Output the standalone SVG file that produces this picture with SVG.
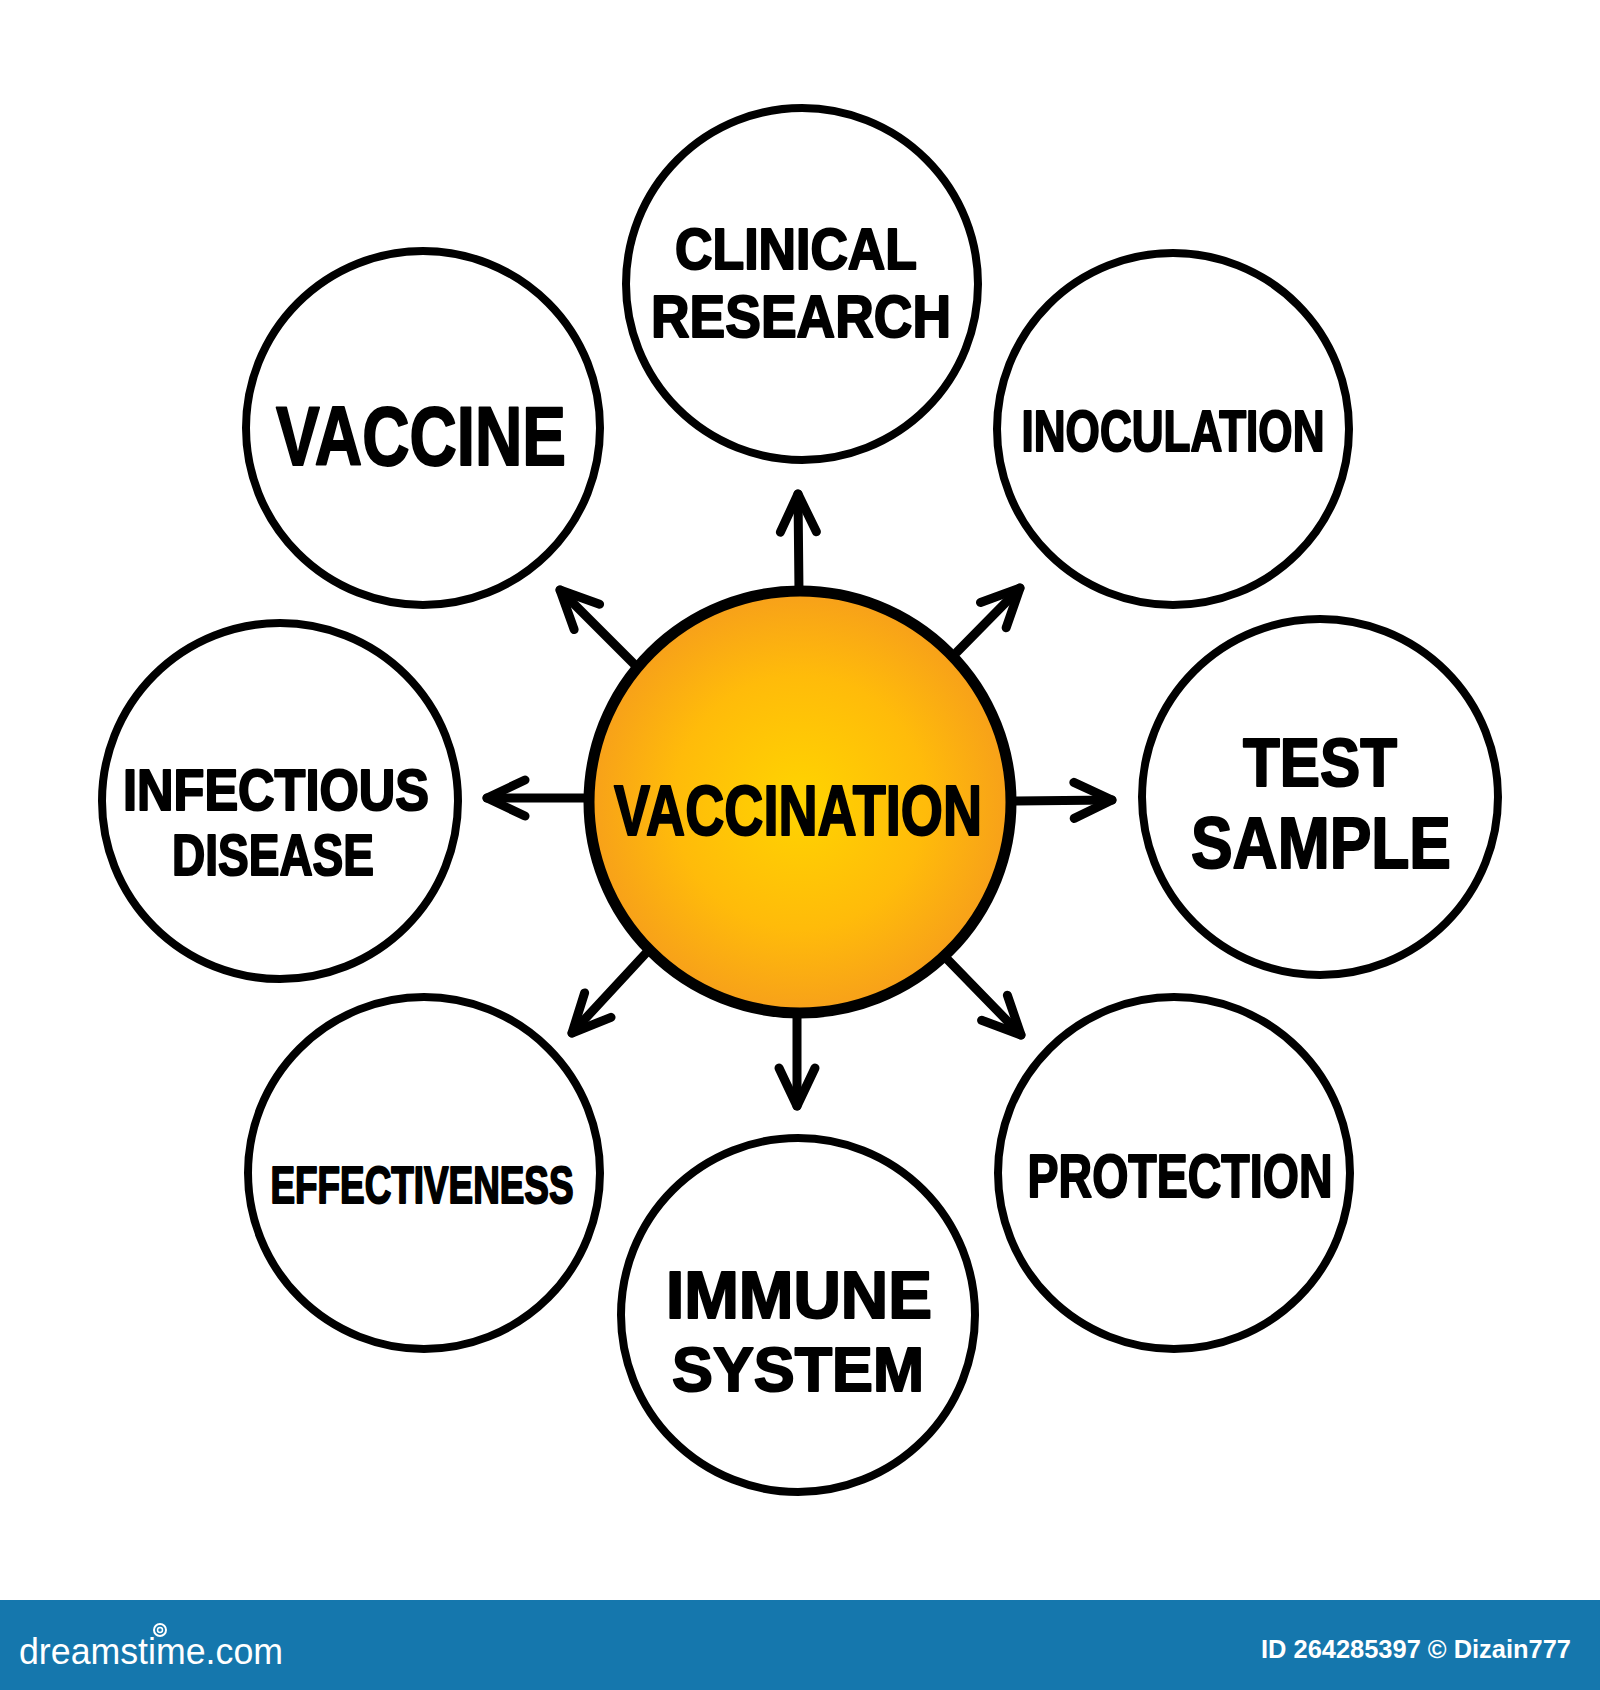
<svg xmlns="http://www.w3.org/2000/svg" width="1600" height="1690" viewBox="0 0 1600 1690">
  <style>
    .node { fill: #ffffff; stroke: #000000; stroke-width: 8; }
    .hub { stroke: #000000; stroke-width: 11; }
    .lbl { font-family: "Liberation Sans", "DejaVu Sans", sans-serif; font-weight: bold; fill: #000000; text-anchor: middle; stroke: #000000; stroke-width: 2; stroke-linejoin: round; }
    .conn { fill: none; stroke: #000000; stroke-width: 9; stroke-linecap: round; marker-end: url(#arrow); }
    .foot { font-family: "Liberation Sans", "DejaVu Sans", sans-serif; fill: #ffffff; }
  </style>
  <defs>
    <radialGradient id="hubFill" cx="0.5" cy="0.5" r="0.5">
      <stop offset="0" stop-color="#ffd400"/>
      <stop offset="0.6" stop-color="#ffbb0a"/>
      <stop offset="1" stop-color="#f7a01a"/>
    </radialGradient>
    <marker id="arrow" markerUnits="userSpaceOnUse" viewBox="-50 -30 60 60" markerWidth="60" markerHeight="60" refX="0" refY="0" orient="auto" overflow="visible">
      <path d="M-38,-18 L0,0 L-38,18" fill="none" stroke="#000000" stroke-width="9" stroke-linecap="round" stroke-linejoin="round"/>
    </marker>
  </defs>
  <rect x="0" y="0" width="1600" height="1690" fill="#ffffff"/>

  <g id="connectors">
    <path class="conn" d="M799,592 L798,494"/>
    <path class="conn" d="M637,667 L560,590"/>
    <path class="conn" d="M957,652 L1020,588"/>
    <path class="conn" d="M587,798 L487,798"/>
    <path class="conn" d="M1012,801 L1112,800"/>
    <path class="conn" d="M797,1012 L797,1106"/>
    <path class="conn" d="M647,952 L572,1033"/>
    <path class="conn" d="M948,960 L1021,1035"/>
  </g>

  <g id="node-vaccination">
    <circle class="hub" cx="800" cy="802" r="211" fill="url(#hubFill)"/>
    <text class="lbl" x="798" y="835" font-size="70" textLength="368" lengthAdjust="spacingAndGlyphs">VACCINATION</text>
  </g>

  <g id="node-clinical-research">
    <circle class="node" cx="802" cy="284" r="176"/>
    <text class="lbl" x="796" y="269" font-size="57" textLength="242" lengthAdjust="spacingAndGlyphs">CLINICAL</text>
    <text class="lbl" x="801" y="337" font-size="60" textLength="300" lengthAdjust="spacingAndGlyphs">RESEARCH</text>
  </g>

  <g id="node-vaccine">
    <circle class="node" cx="423" cy="428" r="177"/>
    <text class="lbl" x="421" y="465" font-size="84" textLength="290" lengthAdjust="spacingAndGlyphs">VACCINE</text>
  </g>

  <g id="node-inoculation">
    <circle class="node" cx="1173" cy="429" r="176"/>
    <text class="lbl" x="1173" y="451" font-size="57" textLength="303" lengthAdjust="spacingAndGlyphs">INOCULATION</text>
  </g>

  <g id="node-infectious-disease">
    <circle class="node" cx="280" cy="801" r="178"/>
    <text class="lbl" x="276" y="810" font-size="57" textLength="306" lengthAdjust="spacingAndGlyphs">INFECTIOUS</text>
    <text class="lbl" x="273" y="875" font-size="57" textLength="202" lengthAdjust="spacingAndGlyphs">DISEASE</text>
  </g>

  <g id="node-test-sample">
    <circle class="node" cx="1320" cy="797" r="178"/>
    <text class="lbl" x="1320" y="786" font-size="69" textLength="154" lengthAdjust="spacingAndGlyphs">TEST</text>
    <text class="lbl" x="1321" y="868" font-size="73" textLength="260" lengthAdjust="spacingAndGlyphs">SAMPLE</text>
  </g>

  <g id="node-effectiveness">
    <circle class="node" cx="424" cy="1173" r="176"/>
    <text class="lbl" x="422" y="1203" font-size="52" textLength="303" lengthAdjust="spacingAndGlyphs">EFFECTIVENESS</text>
  </g>

  <g id="node-protection">
    <circle class="node" cx="1174" cy="1173" r="176"/>
    <text class="lbl" x="1180" y="1197" font-size="62" textLength="305" lengthAdjust="spacingAndGlyphs">PROTECTION</text>
  </g>

  <g id="node-immune-system">
    <circle class="node" cx="798" cy="1315" r="177"/>
    <text class="lbl" x="799" y="1318" font-size="67" textLength="266" lengthAdjust="spacingAndGlyphs">IMMUNE</text>
    <text class="lbl" x="798" y="1391" font-size="63" textLength="252" lengthAdjust="spacingAndGlyphs">SYSTEM</text>
  </g>

  <g id="footer">
    <rect x="0" y="1600" width="1600" height="90" fill="#1577ad"/>
    <text class="foot" x="19" y="1664" font-size="36" textLength="264" lengthAdjust="spacingAndGlyphs" font-family="DejaVu Sans, sans-serif">dreamstime.com</text>
    <circle cx="160" cy="1630" r="6" fill="none" stroke="#ffffff" stroke-width="2"/>
    <circle cx="160" cy="1630" r="2.5" fill="none" stroke="#ffffff" stroke-width="1.5"/>
    <text class="foot" x="1571" y="1658" font-size="26" font-weight="bold" text-anchor="end" textLength="310" lengthAdjust="spacingAndGlyphs">ID 264285397 © Dizain777</text>
  </g>
</svg>
